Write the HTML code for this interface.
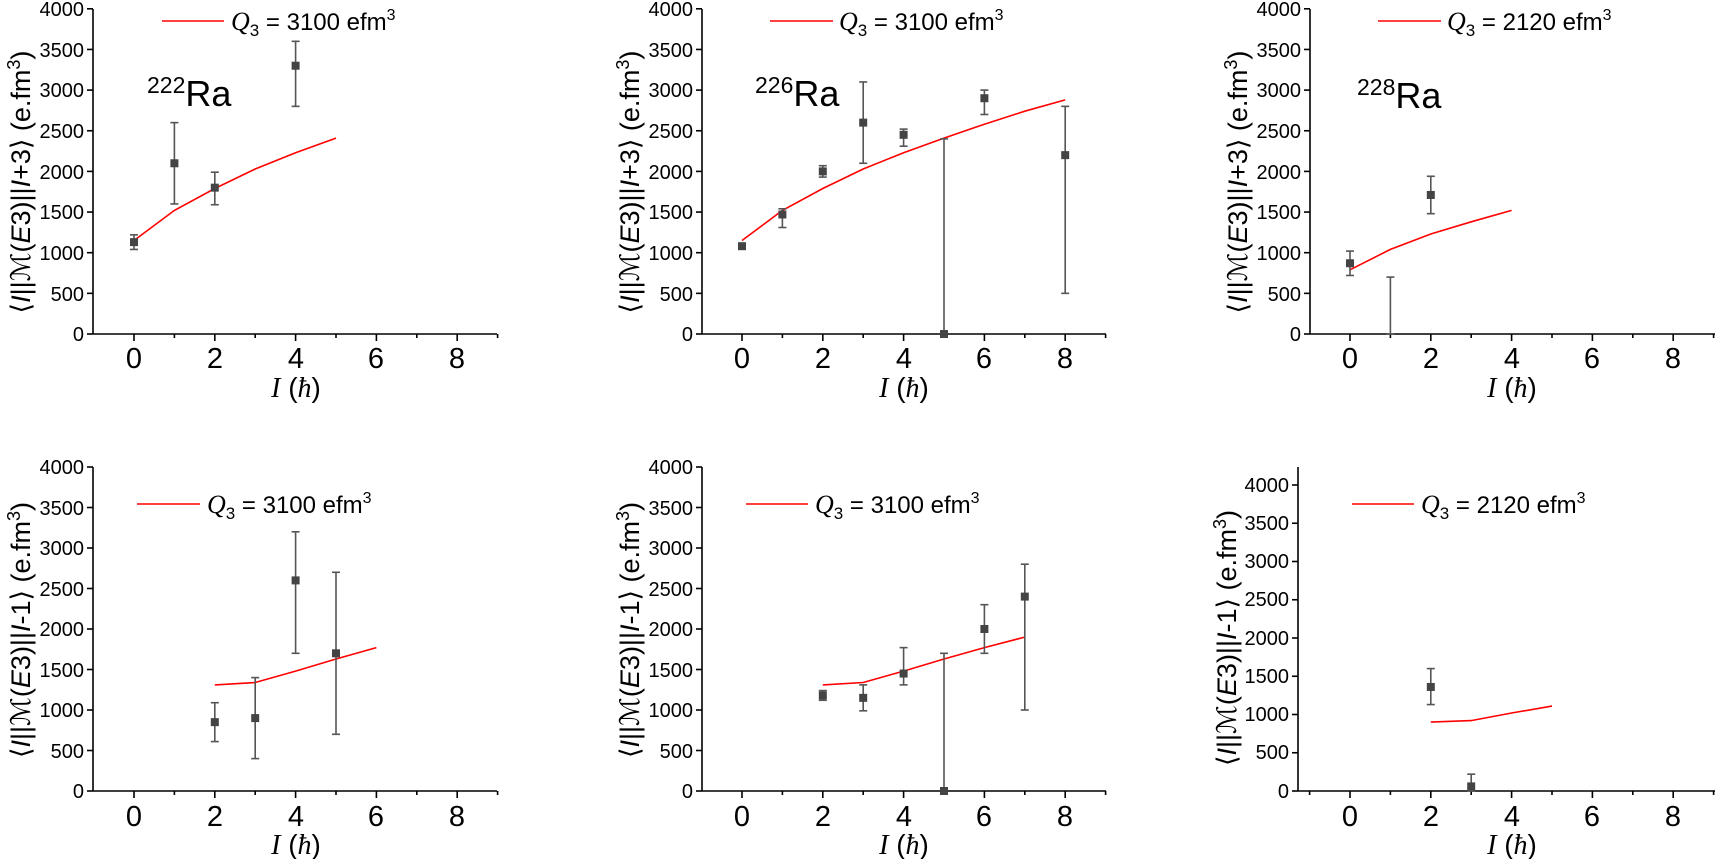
<!DOCTYPE html>
<html><head><meta charset="utf-8"><style>
html,body{margin:0;padding:0;background:#fff;}
svg{display:block;}
text{font-family:"Liberation Sans",sans-serif;fill:#000;}
.tk{font-size:20px;}
.xt{font-size:29px;}
.ser{font-family:"Liberation Serif",serif;font-style:italic;}
</style></head><body>
<svg id="s" width="1716" height="859" viewBox="0 0 1716 859" xmlns="http://www.w3.org/2000/svg">
<g id="axes" stroke="#000" stroke-width="1.6" fill="none"></g>
<g id="data"></g>
<g class="tk" text-anchor="end">
<text x="84" y="16">4000</text><text x="84" y="57">3500</text><text x="84" y="97">3000</text><text x="84" y="138">2500</text><text x="84" y="179">2000</text><text x="84" y="219">1500</text><text x="84" y="260">1000</text><text x="84" y="301">500</text><text x="84" y="341">0</text>
<text x="693" y="16">4000</text><text x="693" y="57">3500</text><text x="693" y="97">3000</text><text x="693" y="138">2500</text><text x="693" y="179">2000</text><text x="693" y="219">1500</text><text x="693" y="260">1000</text><text x="693" y="301">500</text><text x="693" y="341">0</text>
<text x="1301" y="16">4000</text><text x="1301" y="57">3500</text><text x="1301" y="97">3000</text><text x="1301" y="138">2500</text><text x="1301" y="179">2000</text><text x="1301" y="219">1500</text><text x="1301" y="260">1000</text><text x="1301" y="301">500</text><text x="1301" y="341">0</text>
<text x="84" y="474">4000</text><text x="84" y="515">3500</text><text x="84" y="555">3000</text><text x="84" y="596">2500</text><text x="84" y="636">2000</text><text x="84" y="677">1500</text><text x="84" y="717">1000</text><text x="84" y="758">500</text><text x="84" y="798">0</text>
<text x="693" y="474">4000</text><text x="693" y="515">3500</text><text x="693" y="555">3000</text><text x="693" y="596">2500</text><text x="693" y="636">2000</text><text x="693" y="677">1500</text><text x="693" y="717">1000</text><text x="693" y="758">500</text><text x="693" y="798">0</text>
<text x="1289" y="492">4000</text><text x="1289" y="530">3500</text><text x="1289" y="568">3000</text><text x="1289" y="606">2500</text><text x="1289" y="645">2000</text><text x="1289" y="683">1500</text><text x="1289" y="721">1000</text><text x="1289" y="759">500</text><text x="1289" y="798">0</text>
</g>
<g class="xt" text-anchor="middle">
<text x="134" y="368">0</text><text x="215" y="368">2</text><text x="296" y="368">4</text><text x="376" y="368">6</text><text x="457" y="368">8</text>
<text x="742" y="368">0</text><text x="823" y="368">2</text><text x="904" y="368">4</text><text x="984" y="368">6</text><text x="1065" y="368">8</text>
<text x="1350" y="368">0</text><text x="1431" y="368">2</text><text x="1512" y="368">4</text><text x="1592" y="368">6</text><text x="1673" y="368">8</text>
<text x="134" y="826">0</text><text x="215" y="826">2</text><text x="296" y="826">4</text><text x="376" y="826">6</text><text x="457" y="826">8</text>
<text x="742" y="826">0</text><text x="823" y="826">2</text><text x="904" y="826">4</text><text x="984" y="826">6</text><text x="1065" y="826">8</text>
<text x="1350" y="826">0</text><text x="1431" y="826">2</text><text x="1512" y="826">4</text><text x="1592" y="826">6</text><text x="1673" y="826">8</text>
</g>
<g font-size="28" text-anchor="middle">
<text x="296" y="397"><tspan class="ser">I</tspan> (<tspan class="ser">ħ</tspan>)</text>
<text x="904" y="397"><tspan class="ser">I</tspan> (<tspan class="ser">ħ</tspan>)</text>
<text x="1512" y="397"><tspan class="ser">I</tspan> (<tspan class="ser">ħ</tspan>)</text>
<text x="296" y="854"><tspan class="ser">I</tspan> (<tspan class="ser">ħ</tspan>)</text>
<text x="904" y="854"><tspan class="ser">I</tspan> (<tspan class="ser">ħ</tspan>)</text>
<text x="1512" y="854"><tspan class="ser">I</tspan> (<tspan class="ser">ħ</tspan>)</text>
</g>
<g font-size="27" text-anchor="middle">
<text transform="translate(30,182) rotate(-90)">⟨<tspan font-style="italic">I</tspan>||ℳ(<tspan font-style="italic">E</tspan>3)||<tspan font-style="italic">I</tspan>+3⟩ (e.fm<tspan font-size="18" dy="-10">3</tspan><tspan dy="10">)</tspan></text>
<text transform="translate(639,182) rotate(-90)">⟨<tspan font-style="italic">I</tspan>||ℳ(<tspan font-style="italic">E</tspan>3)||<tspan font-style="italic">I</tspan>+3⟩ (e.fm<tspan font-size="18" dy="-10">3</tspan><tspan dy="10">)</tspan></text>
<text transform="translate(1247,182) rotate(-90)">⟨<tspan font-style="italic">I</tspan>||ℳ(<tspan font-style="italic">E</tspan>3)||<tspan font-style="italic">I</tspan>+3⟩ (e.fm<tspan font-size="18" dy="-10">3</tspan><tspan dy="10">)</tspan></text>
<text transform="translate(30,630) rotate(-90)">⟨<tspan font-style="italic">I</tspan>||ℳ(<tspan font-style="italic">E</tspan>3)||<tspan font-style="italic">I</tspan>-1⟩ (e.fm<tspan font-size="18" dy="-10">3</tspan><tspan dy="10">)</tspan></text>
<text transform="translate(639,630) rotate(-90)">⟨<tspan font-style="italic">I</tspan>||ℳ(<tspan font-style="italic">E</tspan>3)||<tspan font-style="italic">I</tspan>-1⟩ (e.fm<tspan font-size="18" dy="-10">3</tspan><tspan dy="10">)</tspan></text>
<text transform="translate(1236,638) rotate(-90)">⟨<tspan font-style="italic">I</tspan>||ℳ(<tspan font-style="italic">E</tspan>3)||<tspan font-style="italic">I</tspan>-1⟩ (e.fm<tspan font-size="18" dy="-10">3</tspan><tspan dy="10">)</tspan></text>
</g>
<g stroke="#f00" stroke-width="1.6">
<line x1="162" y1="21" x2="224" y2="21"/><line x1="770" y1="21" x2="833" y2="21"/><line x1="1378" y1="21" x2="1441" y2="21"/>
<line x1="137" y1="504" x2="200" y2="504"/><line x1="746" y1="504" x2="808" y2="504"/><line x1="1352" y1="504" x2="1414" y2="504"/>
</g>
<g font-size="24">
<text x="231" y="30"><tspan class="ser" font-size="26">Q</tspan><tspan font-size="17" dy="6">3</tspan><tspan dy="-6"> = 3100 efm</tspan><tspan font-size="16" dy="-10">3</tspan></text>
<text x="839" y="30"><tspan class="ser" font-size="26">Q</tspan><tspan font-size="17" dy="6">3</tspan><tspan dy="-6"> = 3100 efm</tspan><tspan font-size="16" dy="-10">3</tspan></text>
<text x="1447" y="30"><tspan class="ser" font-size="26">Q</tspan><tspan font-size="17" dy="6">3</tspan><tspan dy="-6"> = 2120 efm</tspan><tspan font-size="16" dy="-10">3</tspan></text>
<text x="207" y="513"><tspan class="ser" font-size="26">Q</tspan><tspan font-size="17" dy="6">3</tspan><tspan dy="-6"> = 3100 efm</tspan><tspan font-size="16" dy="-10">3</tspan></text>
<text x="815" y="513"><tspan class="ser" font-size="26">Q</tspan><tspan font-size="17" dy="6">3</tspan><tspan dy="-6"> = 3100 efm</tspan><tspan font-size="16" dy="-10">3</tspan></text>
<text x="1421" y="513"><tspan class="ser" font-size="26">Q</tspan><tspan font-size="17" dy="6">3</tspan><tspan dy="-6"> = 2120 efm</tspan><tspan font-size="16" dy="-10">3</tspan></text>
</g>
<g font-size="36">
<text x="147" y="106"><tspan font-size="23" dy="-13">222</tspan><tspan dy="13">Ra</tspan></text>
<text x="755" y="106"><tspan font-size="23" dy="-13">226</tspan><tspan dy="13">Ra</tspan></text>
<text x="1357" y="108"><tspan font-size="23" dy="-13">228</tspan><tspan dy="13">Ra</tspan></text>
</g>
</svg>
<script>
var NS="http://www.w3.org/2000/svg";
var ax=document.getElementById('axes'),dg=document.getElementById('data');
function el(p,t,a){var e=document.createElementNS(NS,t);for(var k in a)e.setAttribute(k,a[k]);p.appendChild(e);return e;}
var panels=[
 {x0:134,yl:93,xr:497,y0:334,k:0.0813,top:9,
  pts:[[0,1130,1040,1220],[1,2100,1600,2600],[2,1800,1590,1990],[4,3300,2800,3600]],
  line:[[0,1150],[1,1520],[2,1790],[3,2030],[4,2230],[5,2410]]},
 {x0:742,yl:702,xr:1106,y0:334,k:0.0813,top:9,
  pts:[[0,1080,1060,1100],[1,1470,1310,1540],[2,2000,1930,2070],[3,2600,2100,3100],[4,2450,2310,2520],[5,0,0,2400],[6,2900,2700,3000],[8,2200,500,2800]],
  line:[[0,1150],[1,1520],[2,1790],[3,2030],[4,2230],[5,2410],[6,2580],[7,2740],[8,2880]]},
 {x0:1350,yl:1310,xr:1715,y0:334,k:0.0813,top:9,
  pts:[[0,870,720,1020],[1,-40,0,700,1],[2,1710,1480,1940]],
  line:[[0,790],[1,1040],[2,1230],[3,1380],[4,1520]]},
 {x0:134,yl:93,xr:497,y0:791,k:0.081,top:467,
  pts:[[2,850,610,1090],[3,900,400,1400],[4,2600,1700,3200],[5,1700,700,2700]],
  line:[[2,1310],[3,1340],[4,1480],[5,1630],[6,1770]]},
 {x0:742,yl:702,xr:1106,y0:791,k:0.081,top:467,
  pts:[[2,1180,1120,1240],[3,1150,990,1310],[4,1450,1310,1770],[5,0,0,1700],[6,2000,1700,2300],[7,2400,1000,2800]],
  line:[[2,1310],[3,1340],[4,1480],[5,1630],[6,1770],[7,1900]]},
 {x0:1350,yl:1298,xr:1715,y0:791,k:0.0765,top:467,
  pts:[[2,1360,1130,1600],[3,60,0,220]],
  line:[[2,900],[3,920],[4,1020],[5,1110]]}
];
panels.forEach(function(p,i){
 var ux=40.4;
 el(ax,'line',{x1:p.yl,y1:p.top,x2:p.yl,y2:p.y0});
 el(ax,'line',{x1:p.yl,y1:p.y0,x2:p.xr,y2:p.y0});
 for(var v=0;v<=4000;v+=500){var y=p.y0-v*p.k;el(ax,'line',{x1:p.yl-6,y1:y,x2:p.yl,y2:y});}
 for(var I=-1;I<=9;I++){var x=p.x0+I*ux;if(x<p.yl+2)continue;el(ax,'line',{x1:x,y1:p.y0,x2:x,y2:p.y0+(I%2==0?7:4)});}
 var d='';p.line.forEach(function(q,j){d+=(j?'L':'M')+(p.x0+q[0]*ux).toFixed(1)+' '+(p.y0-q[1]*p.k).toFixed(1);});
 el(dg,'path',{d:d,stroke:'#f00','stroke-width':1.6,fill:'none'});
 p.pts.forEach(function(q){var x=p.x0+q[0]*ux,y1=p.y0-q[2]*p.k,y2=p.y0-q[3]*p.k;
  el(dg,'line',{x1:x,y1:y1,x2:x,y2:y2,stroke:'#555','stroke-width':1.6});
  el(dg,'line',{x1:x-4,y1:y1,x2:x+4,y2:y1,stroke:'#555','stroke-width':1.6});
  el(dg,'line',{x1:x-4,y1:y2,x2:x+4,y2:y2,stroke:'#555','stroke-width':1.6});
  if(!q[4])el(dg,'rect',{x:x-4,y:p.y0-q[1]*p.k-4,width:8,height:8,fill:'#444'});
 });
});
</script>
</body></html>
